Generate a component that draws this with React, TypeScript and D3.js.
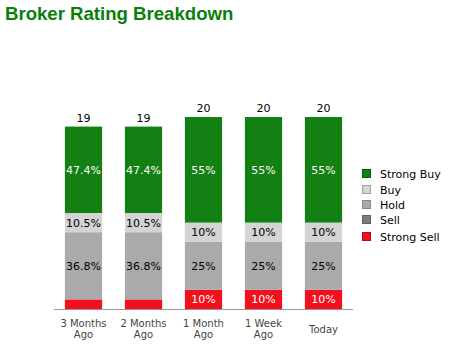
import React from 'react';
import * as d3 from 'd3';

const width = 457;
const height = 353;

const categories = ['3 Months Ago', '2 Months Ago', '1 Month Ago', '1 Week Ago', 'Today'];
const categoryLines = [['3 Months', 'Ago'], ['2 Months', 'Ago'], ['1 Month', 'Ago'], ['1 Week', 'Ago'], ['Today']];
const seriesNames = ['Strong Sell', 'Sell', 'Hold', 'Buy', 'Strong Buy'];
const strongSell = [1, 1, 2, 2, 2];
const sell = [0, 0, 0, 0, 0];
const hold = [7, 7, 5, 5, 5];
const buy = [2, 2, 2, 2, 2];
const strongBuy = [9, 9, 11, 11, 11];
const colors: Record<string, string> = {
  'Strong Buy': '#138013',
  'Buy': '#d4d4d4',
  'Hold': '#aaaaaa',
  'Sell': '#7d7d7d',
  'Strong Sell': '#f2101e',
};
const legendBorders: Record<string, string> = {
  'Strong Buy': '#0b5a0b',
  'Buy': '#a0a0a0',
  'Hold': '#888888',
  'Sell': '#606060',
  'Strong Sell': '#b00a14',
};
const textColors: Record<string, string> = {
  'Strong Buy': '#ffffff',
  'Buy': '#000000',
  'Hold': '#000000',
  'Sell': '#ffffff',
  'Strong Sell': '#ffffff',
};

const font = "'DejaVu Sans', sans-serif";

export default function App() {
  const table = categories.map((c, i) => ({
    cat: c,
    'Strong Sell': strongSell[i],
    'Sell': sell[i],
    'Hold': hold[i],
    'Buy': buy[i],
    'Strong Buy': strongBuy[i],
  }));
  const stacked = d3.stack<any>().keys(seriesNames)(table);
  const totals = table.map((d, i) => strongSell[i] + sell[i] + hold[i] + buy[i] + strongBuy[i]);

  const x = d3.scaleBand().domain(categories).range([53.5, 353.5]).paddingInner(0.38).paddingOuter(0.19);
  const y = d3.scaleLinear().domain([0, 20]).range([309, 117]);

  const pct = (v: number, t: number) => `${Math.round((v / t) * 1000) / 10}%`;
  const legendOrder = ['Strong Buy', 'Buy', 'Hold', 'Sell', 'Strong Sell'];
  const legendY = [174, 190, 205, 220, 237];

  return (
    <svg width={width} height={height} style={{ position: 'absolute', left: 0, top: 0 }}>
      <rect width={width} height={height} fill="#fff" />
      <text x={5} y={20} fontFamily="'Liberation Sans', Arial, sans-serif" fontWeight="bold" fontSize={18.6} fill="#088008">
        Broker Rating Breakdown
      </text>
      {stacked.map(layer => (
        <g key={layer.key}>
          {layer.map((d, i) => {
            const h = y(d[0]) - y(d[1]);
            if (h <= 0) return null;
            const bx = x(categories[i])!;
            return (
              <g key={i}>
                <rect x={bx} y={y(d[1])} width={x.bandwidth()} height={h} fill={colors[layer.key]} />
                {h >= 14 && (
                  <text x={bx + x.bandwidth() / 2} y={(y(d[0]) + y(d[1])) / 2 + 4} textAnchor="middle"
                    fontFamily={font} fontSize={11} fill={textColors[layer.key]}>
                    {pct(d[1] - d[0], totals[i])}
                  </text>
                )}
              </g>
            );
          })}
        </g>
      ))}
      {totals.map((t, i) => (
        <text key={i} x={x(categories[i])! + x.bandwidth() / 2} y={y(t) - 5} textAnchor="middle"
          fontFamily={font} fontSize={11} fill="#000">{t}</text>
      ))}
      <line x1={54} x2={353} y1={309.5} y2={309.5} stroke="#999" />
      {categoryLines.map((lines, i) => (
        <text key={i} x={x(categories[i])! + x.bandwidth() / 2} y={lines.length > 1 ? 327 : 333}
          textAnchor="middle" fontFamily={font} fontSize={10} fill="#444">
          {lines.map((l, j) => (
            <tspan key={j} x={x(categories[i])! + x.bandwidth() / 2} dy={j === 0 ? 0 : 11}>{l}</tspan>
          ))}
        </text>
      ))}
      {legendOrder.map((s, i) => (
        <g key={s} transform={`translate(362, ${legendY[i]})`}>
          <rect x={0.5} y={-4.5} width={8} height={8} fill={colors[s]} stroke={legendBorders[s]} />
          <text x={18} y={4} fontFamily={font} fontSize={11} fill="#000">{s}</text>
        </g>
      ))}
    </svg>
  );
}
